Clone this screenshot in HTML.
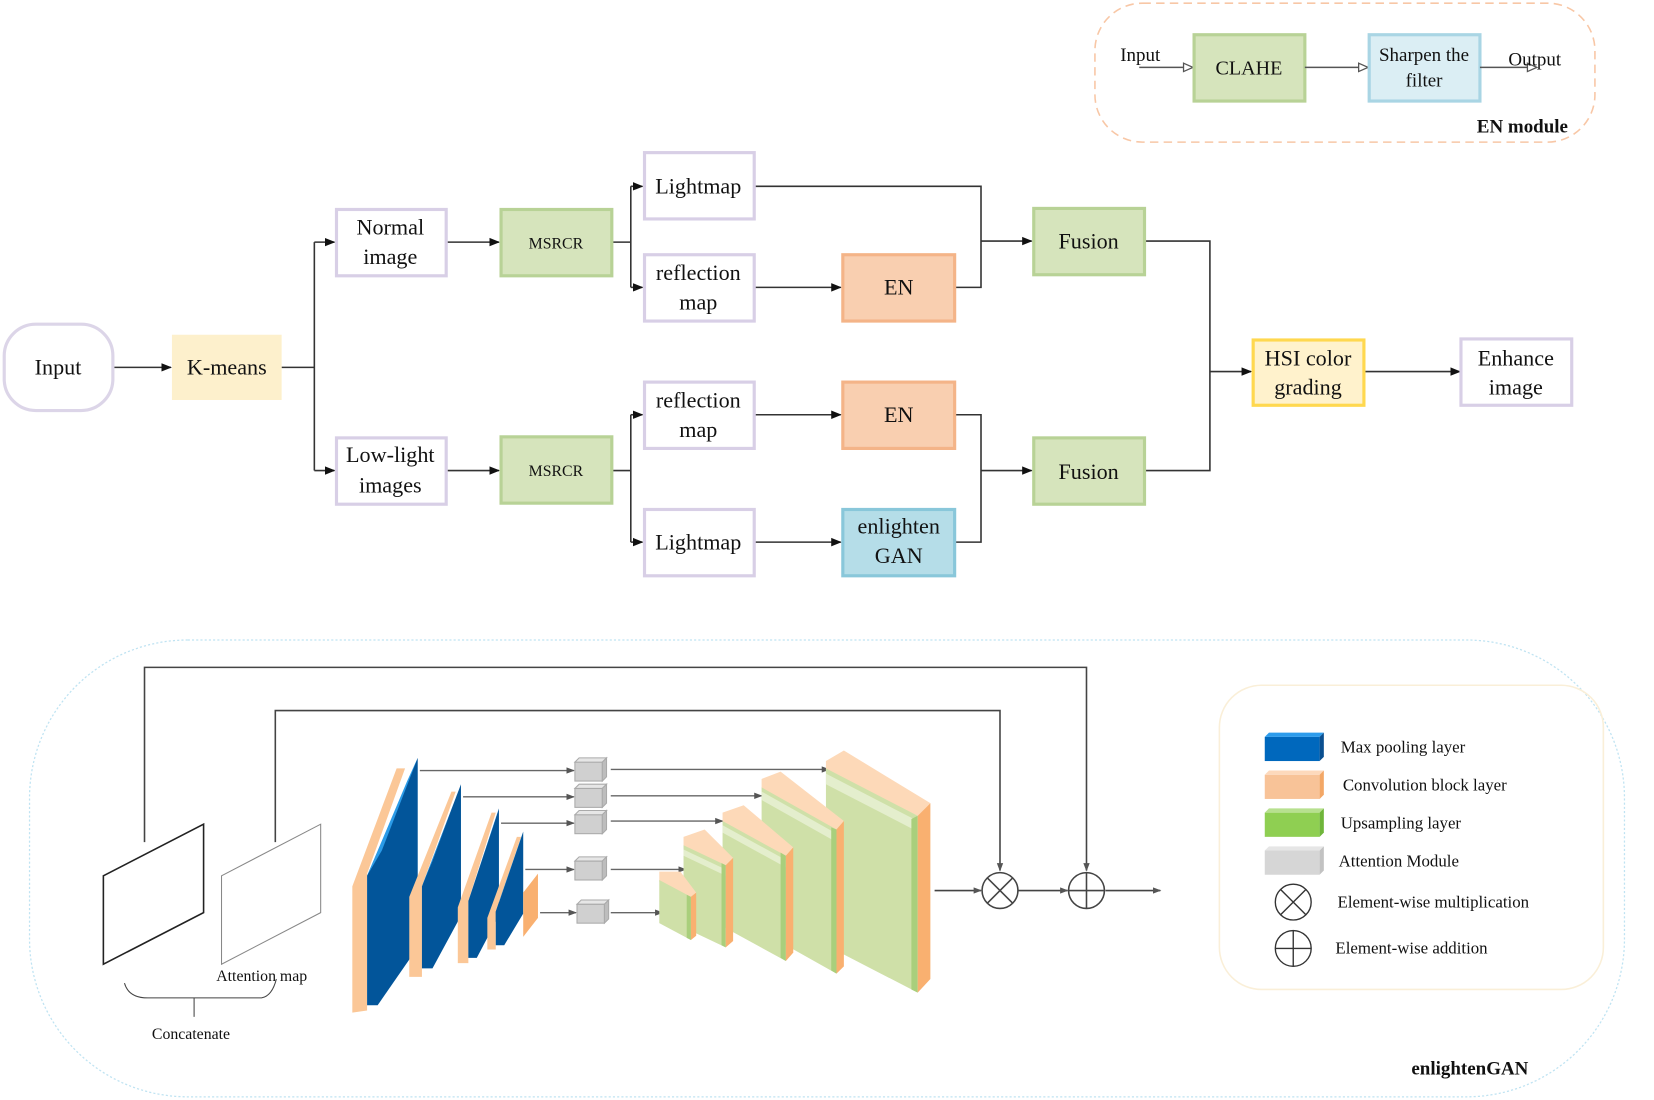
<!DOCTYPE html>
<html><head><meta charset="utf-8"><style>
html,body{margin:0;padding:0;background:#fff;}
svg{display:block;}
text{font-family:"Liberation Serif",serif;fill:#111;}
</style></head><body>
<svg width="1654" height="1100" viewBox="0 0 1568 1045" preserveAspectRatio="none" xmlns="http://www.w3.org/2000/svg">
<defs>
<marker id="a" markerWidth="10" markerHeight="10" refX="9" refY="5" orient="auto" markerUnits="userSpaceOnUse"><path d="M0,1 L10,5 L0,9 z" fill="#111"/></marker>
<marker id="o" markerWidth="12" markerHeight="12" refX="10" refY="6" orient="auto" markerUnits="userSpaceOnUse"><path d="M1,2 L10,6 L1,10 z" fill="#fff" stroke="#555" stroke-width="1.2"/></marker>
<marker id="s" markerWidth="8" markerHeight="8" refX="7" refY="4" orient="auto" markerUnits="userSpaceOnUse"><path d="M0,1 L8,4 L0,7 z" fill="#555"/></marker>
</defs>

<!-- EN module -->
<rect x="1038" y="3" width="474" height="132" rx="45" fill="none" stroke="#f8c7a6" stroke-width="1.5" stroke-dasharray="8,5"/>
<text x="1062" y="58" font-size="18">Input</text>
<line x1="1080" y1="64" x2="1131" y2="64" stroke="#555" stroke-width="1.5" marker-end="url(#o)"/>
<rect x="1132" y="33" width="105" height="63" fill="#d6e4bc" stroke="#b8d296" stroke-width="3"/>
<text x="1184" y="71" font-size="19" text-anchor="middle">CLAHE</text>
<line x1="1237" y1="64" x2="1297" y2="64" stroke="#555" stroke-width="1.5" marker-end="url(#o)"/>
<rect x="1298" y="33" width="105" height="63" fill="#dbeef4" stroke="#a9d5e4" stroke-width="3"/>
<text x="1350" y="58" font-size="18" text-anchor="middle">Sharpen the</text>
<text x="1350" y="82" font-size="18" text-anchor="middle">filter</text>
<line x1="1403" y1="64" x2="1457" y2="64" stroke="#555" stroke-width="1.5" marker-end="url(#o)"/>
<text x="1430" y="62" font-size="18">Output</text>
<text x="1400" y="126" font-size="18" font-weight="bold">EN module</text>

<!-- main flow -->
<g stroke="#333" stroke-width="1.5" fill="none">
<line x1="107" y1="349" x2="162" y2="349" marker-end="url(#a)"/>
<polyline points="267,349 298,349"/>
<line x1="298" y1="230" x2="298" y2="447"/>
<line x1="298" y1="230" x2="317" y2="230" marker-end="url(#a)"/>
<line x1="298" y1="447" x2="317" y2="447" marker-end="url(#a)"/>
<line x1="423" y1="230" x2="473" y2="230" marker-end="url(#a)"/>
<line x1="423" y1="447" x2="473" y2="447" marker-end="url(#a)"/>
<line x1="580" y1="230" x2="598" y2="230"/>
<line x1="598" y1="177" x2="598" y2="273"/>
<line x1="598" y1="177" x2="609" y2="177" marker-end="url(#a)"/>
<line x1="598" y1="273" x2="609" y2="273" marker-end="url(#a)"/>
<polyline points="715,177 930,177 930,273 905,273"/>
<line x1="715" y1="273" x2="797" y2="273" marker-end="url(#a)"/>
<line x1="930" y1="229" x2="978" y2="229" marker-end="url(#a)"/>
<polyline points="1085,229 1147,229 1147,447 1085,447"/>
<line x1="1147" y1="353" x2="1186" y2="353" marker-end="url(#a)"/>
<line x1="1293" y1="353" x2="1384" y2="353" marker-end="url(#a)"/>
<line x1="580" y1="447" x2="598" y2="447"/>
<line x1="598" y1="394" x2="598" y2="515"/>
<line x1="598" y1="394" x2="609" y2="394" marker-end="url(#a)"/>
<line x1="598" y1="515" x2="609" y2="515" marker-end="url(#a)"/>
<line x1="715" y1="394" x2="797" y2="394" marker-end="url(#a)"/>
<line x1="715" y1="515" x2="797" y2="515" marker-end="url(#a)"/>
<polyline points="905,394 930,394 930,515 905,515"/>
<line x1="930" y1="447" x2="978" y2="447" marker-end="url(#a)"/>
</g>

<rect x="4" y="308" width="103" height="82" rx="30" fill="#fff" stroke="#dcd5e8" stroke-width="3"/>
<text x="55" y="356" font-size="21" text-anchor="middle">Input</text>
<rect x="163" y="318" width="104" height="62" fill="#fdf0cc"/>
<text x="215" y="356" font-size="21" text-anchor="middle">K-means</text>

<g fill="#fff" stroke="#d8cfe6" stroke-width="3">
<rect x="319" y="199" width="104" height="63"/>
<rect x="319" y="416" width="104" height="63"/>
<rect x="611" y="145" width="104" height="63"/>
<rect x="611" y="242" width="104" height="63"/>
<rect x="611" y="363" width="104" height="63"/>
<rect x="611" y="484" width="104" height="63"/>
<rect x="1385" y="322" width="105" height="63"/>
</g>
<g fill="#d6e4bc" stroke="#b8d296" stroke-width="3">
<rect x="475" y="199" width="105" height="63"/>
<rect x="475" y="415" width="105" height="63"/>
<rect x="980" y="198" width="105" height="63"/>
<rect x="980" y="416" width="105" height="63"/>
</g>
<rect x="799" y="242" width="106" height="63" fill="#f9cfb0" stroke="#f4b488" stroke-width="3"/>
<rect x="799" y="363" width="106" height="63" fill="#f9cfb0" stroke="#f4b488" stroke-width="3"/>
<rect x="799" y="484" width="106" height="63" fill="#b5dde8" stroke="#89c7da" stroke-width="3"/>
<rect x="1188" y="323" width="105" height="62" fill="#fff2cc" stroke="#ffd84f" stroke-width="3"/>

<g font-size="21" text-anchor="middle">
<text x="370" y="223">Normal</text><text x="370" y="251">image</text>
<text x="370" y="439">Low-light</text><text x="370" y="468">images</text>
<text x="527" y="236" font-size="15">MSRCR</text>
<text x="527" y="452" font-size="15">MSRCR</text>
<text x="662" y="184">Lightmap</text>
<text x="662" y="266">reflection</text><text x="662" y="294">map</text>
<text x="662" y="387">reflection</text><text x="662" y="415">map</text>
<text x="662" y="522">Lightmap</text>
<text x="852" y="280">EN</text>
<text x="852" y="401">EN</text>
<text x="852" y="507">enlighten</text><text x="852" y="535">GAN</text>
<text x="1032" y="236">Fusion</text>
<text x="1032" y="455">Fusion</text>
<text x="1240" y="347">HSI color</text><text x="1240" y="375">grading</text>
<text x="1437" y="347">Enhance</text><text x="1437" y="375">image</text>
</g>

<!-- bottom panel -->
<rect x="28" y="608" width="1512" height="434" rx="150" fill="none" stroke="#bfe3f2" stroke-width="1.2" stroke-dasharray="2,2"/>
<rect x="1156" y="651" width="364" height="289" rx="40" fill="none" stroke="#faefd8" stroke-width="1.5"/>

<g stroke="#444" stroke-width="1.5" fill="none">
<polyline points="137,800 137,634 1030,634 1030,827" marker-end="url(#s)"/>
<polyline points="261,800 261,675 948,675 948,827" marker-end="url(#s)"/>
</g>
<polygon points="98,832 193,783 193,867 98,916" fill="#fff" stroke="#222" stroke-width="1.5"/>
<polygon points="210,832 304,783 304,867 210,916" fill="#fff" stroke="#888" stroke-width="1"/>
<text x="205" y="932" font-size="15">Attention map</text>
<path d="M118,934 Q122,948 140,948 L248,948 Q258,946 262,930" fill="none" stroke="#444" stroke-width="1"/>
<line x1="184" y1="948" x2="184" y2="966" stroke="#444" stroke-width="1"/>
<text x="144" y="987" font-size="15">Concatenate</text>

<!-- encoder -->
<g>
<polygon points="334,842 376,730 384,730 348,830 348,960 334,962" fill="#fbc797"/>
<polygon points="348,832 396,720 396,900 358,955 348,955" fill="#02559a"/>
<polygon points="348,832 386,742 396,720 362,808" fill="#2b9be8"/>
<polygon points="388,852 428,752 432,752 400,842 400,928 388,928" fill="#fbc797"/>
<polygon points="400,842 437,745 437,870 410,920 400,920" fill="#02559a"/>
<polygon points="400,842 430,764 437,745 410,818" fill="#2b9be8"/>
<polygon points="434,862 466,772 470,772 444,856 444,915 434,915" fill="#fbc797"/>
<polygon points="444,856 473,768 473,870 452,910 444,910" fill="#02559a"/>
<polygon points="444,856 468,784 473,768 452,832" fill="#2b9be8"/>
<polygon points="462,872 490,795 494,795 470,866 470,902 462,902" fill="#fbc797"/>
<polygon points="470,866 496,790 496,868 478,898 470,898" fill="#02559a"/>
<polygon points="470,866 492,802 496,790 476,848" fill="#2b9be8"/>
<polygon points="496,848 510,830 510,872 496,890" fill="#f9b070"/>
</g>

<!-- attention cubes & arrows -->
<g stroke="#666" stroke-width="1.3" fill="none">
<line x1="398" y1="732" x2="544" y2="732" marker-end="url(#s)"/>
<line x1="439" y1="757" x2="544" y2="757" marker-end="url(#s)"/>
<line x1="475" y1="782" x2="544" y2="782" marker-end="url(#s)"/>
<line x1="498" y1="826" x2="544" y2="826" marker-end="url(#s)"/>
<line x1="512" y1="867" x2="546" y2="867" marker-end="url(#s)"/>
<line x1="579" y1="731" x2="786" y2="731" marker-end="url(#s)"/>
<line x1="579" y1="756" x2="722" y2="756" marker-end="url(#s)"/>
<line x1="579" y1="780" x2="685" y2="780" marker-end="url(#s)"/>
<line x1="579" y1="826" x2="650" y2="826" marker-end="url(#s)"/>
<line x1="579" y1="867" x2="628" y2="867" marker-end="url(#s)"/>
</g>
<g>
<g transform="translate(545,720)"><rect x="0" y="4" width="26" height="18" fill="#d0d0d0" stroke="#aaa"/><polygon points="0,4 4,0 30,0 26,4" fill="#e6e6e6" stroke="#aaa"/><polygon points="26,4 30,0 30,18 26,22" fill="#bdbdbd" stroke="#aaa"/></g>
<g transform="translate(545,745)"><rect x="0" y="4" width="26" height="18" fill="#d0d0d0" stroke="#aaa"/><polygon points="0,4 4,0 30,0 26,4" fill="#e6e6e6" stroke="#aaa"/><polygon points="26,4 30,0 30,18 26,22" fill="#bdbdbd" stroke="#aaa"/></g>
<g transform="translate(545,770)"><rect x="0" y="4" width="26" height="18" fill="#d0d0d0" stroke="#aaa"/><polygon points="0,4 4,0 30,0 26,4" fill="#e6e6e6" stroke="#aaa"/><polygon points="26,4 30,0 30,18 26,22" fill="#bdbdbd" stroke="#aaa"/></g>
<g transform="translate(545,814)"><rect x="0" y="4" width="26" height="18" fill="#d0d0d0" stroke="#aaa"/><polygon points="0,4 4,0 30,0 26,4" fill="#e6e6e6" stroke="#aaa"/><polygon points="26,4 30,0 30,18 26,22" fill="#bdbdbd" stroke="#aaa"/></g>
<g transform="translate(547,855)"><rect x="0" y="4" width="26" height="18" fill="#d0d0d0" stroke="#aaa"/><polygon points="0,4 4,0 30,0 26,4" fill="#e6e6e6" stroke="#aaa"/><polygon points="26,4 30,0 30,18 26,22" fill="#bdbdbd" stroke="#aaa"/></g>
</g>

<!-- decoder blocks: drawn large to small so smaller are in front -->
<g>
<polygon points="783,723 800,713 882,763 870,775 783,733" fill="#fdd9b8"/>
<polygon points="783,730 870,775 870,943 783,898" fill="#cfe0a8"/>
<polygon points="783,735 870,780 870,790 783,745" fill="#e4eecd"/>
<polygon points="864,778 870,775 870,943 864,940" fill="#a9cf7c"/>
<polygon points="870,775 882,763 882,930 870,943" fill="#f9b070"/>

<polygon points="722,740 740,733 800,780 793,788 722,750" fill="#fdd9b8"/>
<polygon points="722,748 793,788 793,925 722,885" fill="#cfe0a8"/>
<polygon points="722,752 793,792 793,800 722,760" fill="#e4eecd"/>
<polygon points="788,786 793,788 793,925 788,922" fill="#a9cf7c"/>
<polygon points="793,788 800,780 800,918 793,925" fill="#f9b070"/>

<polygon points="685,772 705,765 752,805 745,813 685,782" fill="#fdd9b8"/>
<polygon points="685,780 745,813 745,913 685,880" fill="#cfe0a8"/>
<polygon points="685,784 745,817 745,824 685,791" fill="#e4eecd"/>
<polygon points="740,810 745,813 745,913 740,910" fill="#a9cf7c"/>
<polygon points="745,813 752,805 752,905 745,913" fill="#f9b070"/>

<polygon points="648,795 668,788 695,815 688,822 648,805" fill="#fdd9b8"/>
<polygon points="648,803 688,822 688,900 648,881" fill="#cfe0a8"/>
<polygon points="648,807 688,826 688,832 648,813" fill="#e4eecd"/>
<polygon points="684,820 688,822 688,900 684,898" fill="#a9cf7c"/>
<polygon points="688,822 695,815 695,894 688,900" fill="#f9b070"/>

<polygon points="625,828 645,828 660,848 655,852 625,838" fill="#fdd9b8"/>
<polygon points="625,836 655,852 655,893 625,877" fill="#cfe0a8"/>
<polygon points="651,850 655,852 655,893 651,891" fill="#a9cf7c"/>
<polygon points="655,852 660,848 660,889 655,893" fill="#f9b070"/>
</g>

<g stroke="#444" stroke-width="1.5" fill="none">
<line x1="886" y1="846" x2="930" y2="846" marker-end="url(#s)"/>
<circle cx="948" cy="846" r="17"/>
<line x1="936" y1="834" x2="960" y2="858"/><line x1="960" y1="834" x2="936" y2="858"/>
<line x1="965" y1="846" x2="1012" y2="846" marker-end="url(#s)"/>
<circle cx="1030" cy="846" r="17"/>
<line x1="1013" y1="846" x2="1047" y2="846"/><line x1="1030" y1="829" x2="1030" y2="863"/>
<line x1="1048" y1="846" x2="1100" y2="846" marker-end="url(#s)"/>
</g>
<text x="1338" y="1021" font-size="18" font-weight="bold">enlightenGAN</text>

<!-- legend -->
<g>
<rect x="1199" y="700" width="52" height="23" fill="#0068bd"/><polygon points="1199,700 1203,696 1255,696 1251,700" fill="#2d9cec"/><polygon points="1251,700 1255,696 1255,719 1251,723" fill="#0a4f90"/>
<rect x="1199" y="736" width="52" height="23" fill="#f8c398"/><polygon points="1199,736 1203,732 1255,732 1251,736" fill="#fdd9bc"/><polygon points="1251,736 1255,732 1255,755 1251,759" fill="#f3a766"/>
<rect x="1199" y="772" width="52" height="23" fill="#8fcf52"/><polygon points="1199,772 1203,768 1255,768 1251,772" fill="#b7e08f"/><polygon points="1251,772 1255,768 1255,791 1251,795" fill="#6fb53a"/>
<rect x="1199" y="808" width="52" height="23" fill="#d6d6d6"/><polygon points="1199,808 1203,804 1255,804 1251,808" fill="#e6e6e6"/><polygon points="1251,808 1255,804 1255,827 1251,831" fill="#c2c2c2"/>
</g>
<g stroke="#333" stroke-width="1.3" fill="none">
<circle cx="1226" cy="857" r="17"/><line x1="1214" y1="845" x2="1238" y2="869"/><line x1="1238" y1="845" x2="1214" y2="869"/>
<circle cx="1226" cy="901" r="17"/><line x1="1209" y1="901" x2="1243" y2="901"/><line x1="1226" y1="884" x2="1226" y2="918"/>
</g>
<g font-size="16">
<text x="1271" y="715">Max pooling layer</text>
<text x="1273" y="751">Convolution block layer</text>
<text x="1271" y="787">Upsampling layer</text>
<text x="1269" y="823">Attention Module</text>
<text x="1268" y="862">Element-wise multiplication</text>
<text x="1266" y="906">Element-wise addition</text>
</g>
</svg>
</body></html>
